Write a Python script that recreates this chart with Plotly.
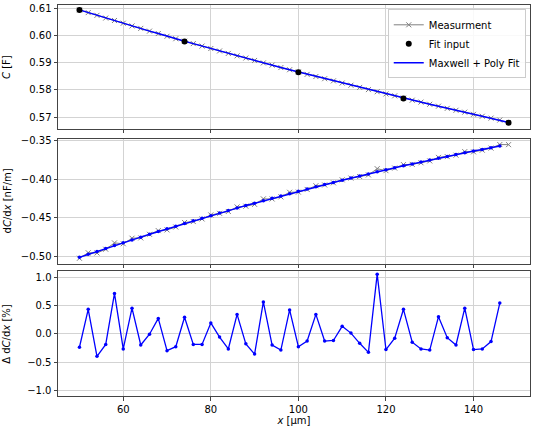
import plotly.graph_objects as go

# positions along x [um]
x_pos = [50, 52, 54, 56, 58, 60, 62, 64, 66, 68, 70, 72, 74, 76, 78, 80, 82, 84,
         86, 88, 90, 92, 94, 96, 98, 100, 102, 104, 106, 108, 110, 112, 114, 116,
         118, 120, 122, 124, 126, 128, 130, 132, 134, 136, 138, 140, 142, 144,
         146, 148]

# capacitance C [F]
c_meas = [0.6094, 0.6084, 0.6074, 0.6064, 0.6055, 0.6045, 0.6035, 0.6026,
          0.6016, 0.6007, 0.5997, 0.5988, 0.5979, 0.5970, 0.5961, 0.5952,
          0.5943, 0.5934, 0.5925, 0.5917, 0.5908, 0.5899, 0.5891, 0.5882,
          0.5874, 0.5866, 0.5857, 0.5849, 0.5841, 0.5833, 0.5825, 0.5817,
          0.5809, 0.5801, 0.5793, 0.5785, 0.5778, 0.5770, 0.5762, 0.5755,
          0.5747, 0.5740, 0.5732, 0.5725, 0.5718, 0.5710, 0.5703, 0.5696,
          0.5689, 0.5680]
c_fit = c_meas

fit_in_x = [50, 74, 100, 124, 148]
fit_in_c = [0.6094, 0.5978, 0.5865, 0.5768, 0.5679]

# dC/dx [nF/m]
dcdx_meas = [-0.5029, -0.4957, -0.4960, -0.4911, -0.4829, -0.4840, -0.4768,
             -0.4764, -0.4717, -0.4669, -0.4660, -0.4622, -0.4563, -0.4551,
             -0.4517, -0.4465, -0.4444, -0.4420, -0.4361, -0.4351, -0.4327,
             -0.4256, -0.4257, -0.4230, -0.4170, -0.4168, -0.4133, -0.4085,
             -0.4075, -0.4047, -0.4008, -0.3985, -0.3965, -0.3944, -0.3863,
             -0.3889, -0.3855, -0.3810, -0.3807, -0.3786, -0.3762, -0.3716,
             -0.3706, -0.3687, -0.3641, -0.3644, -0.3622, -0.3595, -0.3549,
             -0.3550]

x_fit = x_pos[:-1]
dcdx_fit = [-0.5017, -0.4978, -0.4940, -0.4902, -0.4864, -0.4827, -0.4790,
            -0.4754, -0.4717, -0.4682, -0.4646, -0.4611, -0.4576, -0.4542,
            -0.4508, -0.4474, -0.4441, -0.4408, -0.4376, -0.4343, -0.4312,
            -0.4280, -0.4249, -0.4218, -0.4188, -0.4158, -0.4128, -0.4099,
            -0.4070, -0.4042, -0.4013, -0.3985, -0.3958, -0.3931, -0.3904,
            -0.3878, -0.3852, -0.3826, -0.3801, -0.3776, -0.3751, -0.3727,
            -0.3703, -0.3680, -0.3657, -0.3634, -0.3612, -0.3590, -0.3568]

# relative deviation [%]
delta_pct = [-0.24, 0.43, -0.40, -0.19, 0.71, -0.27, 0.45, -0.20, -0.01, 0.27,
             -0.30, -0.23, 0.29, -0.19, -0.19, 0.19, -0.06, -0.27, 0.34, -0.18,
             -0.36, 0.56, -0.20, -0.29, 0.42, -0.23, -0.13, 0.34, -0.13, -0.12,
             0.13, 0.01, -0.17, -0.33, 1.05, -0.28, -0.08, 0.43, -0.15, -0.27,
             -0.29, 0.30, -0.07, -0.20, 0.45, -0.28, -0.27, -0.14, 0.54]

FONT = "DejaVu Sans"
FS = 10
GRAY = "#808080"
BLUE = "#0000ff"

fig = go.Figure()

meas_style = dict(mode="lines+markers", line=dict(color=GRAY, width=1),
                  marker=dict(symbol="x-thin", size=5,
                              line=dict(color=GRAY, width=1)))

# top panel
fig.add_trace(go.Scatter(x=x_pos, y=c_meas, name="Measurment", legendrank=1,
                         xaxis="x", yaxis="y", **meas_style))
fig.add_trace(go.Scatter(x=x_pos, y=c_fit, name="Maxwell + Poly Fit",
                         legendrank=3,
                         mode="lines", line=dict(color=BLUE, width=1.5),
                         xaxis="x", yaxis="y"))
fig.add_trace(go.Scatter(x=fit_in_x, y=fit_in_c, name="Fit input",
                         legendrank=2,
                         mode="markers", marker=dict(color="black", size=6),
                         xaxis="x", yaxis="y"))

# middle panel
fig.add_trace(go.Scatter(x=x_pos, y=dcdx_meas, showlegend=False,
                         xaxis="x2", yaxis="y2", **meas_style))
fig.add_trace(go.Scatter(x=x_fit, y=dcdx_fit, showlegend=False,
                         mode="lines+markers", line=dict(color=BLUE, width=1.5),
                         marker=dict(color=BLUE, size=3.5),
                         xaxis="x2", yaxis="y2"))

# bottom panel
fig.add_trace(go.Scatter(x=x_fit, y=delta_pct, showlegend=False,
                         mode="lines+markers", line=dict(color=BLUE, width=1.3),
                         marker=dict(color=BLUE, size=3.5),
                         xaxis="x3", yaxis="y3"))

axis_common = dict(showline=True, mirror=True, linecolor="#444", linewidth=1,
                   showgrid=True, gridcolor="#d3d3d3", gridwidth=1,
                   zeroline=False, ticks="outside", ticklen=3.5,
                   tickcolor="#444", tickfont=dict(family=FONT, size=FS,
                                                   color="black"))

xr = [45.1, 152.9]
fig.update_layout(
    width=533, height=426,
    margin=dict(l=58, r=2, t=3, b=30),
    paper_bgcolor="white", plot_bgcolor="white",
    font=dict(family=FONT, size=FS, color="black"),
    xaxis=dict(domain=[0, 1], anchor="y", range=xr, dtick=20,
               showticklabels=False, **axis_common),
    xaxis2=dict(domain=[0, 1], anchor="y2", range=xr, dtick=20,
                showticklabels=False, **axis_common),
    xaxis3=dict(domain=[0, 1], anchor="y3", range=xr, dtick=20,
                title=dict(text="<i>x</i> [μm]", standoff=2,
                           font=dict(family=FONT, size=FS)),
                **axis_common),
    yaxis=dict(domain=[0.6835, 1.0], anchor="x", range=[0.5657, 0.6112],
               dtick=0.01, tickformat=".2f", **axis_common),
    yaxis2=dict(domain=[0.3377, 0.658], anchor="x2", range=[-0.5103, -0.3473],
                dtick=0.05, tickformat=".2f", **axis_common),
    yaxis3=dict(domain=[0, 0.3188], anchor="x3", range=[-1.1, 1.1],
                dtick=0.5, tickformat=".1f", **axis_common),
    legend=dict(x=0.991, y=0.989, xanchor="right", yanchor="top",
                bgcolor="rgba(255,255,255,0.85)", bordercolor="#cccccc",
                borderwidth=1, font=dict(family=FONT, size=FS),
                itemwidth=30, tracegroupgap=0),
    showlegend=True,
)

# aligned y labels as in the reference
ylabels = [("<i>C</i> [F]", (0.6835 + 1.0) / 2),
           ("d<i>C</i>/d<i>x</i> [nF/m]", (0.3377 + 0.658) / 2),
           ("Δ d<i>C</i>/d<i>x</i> [%]", 0.3188 / 2)]
for txt, yc in ylabels:
    fig.add_annotation(text=txt, xref="paper", yref="paper",
                       x=(7 - 58) / 473, y=yc, xanchor="center",
                       yanchor="middle", textangle=-90, showarrow=False,
                       font=dict(family=FONT, size=FS))

fig.write_html("out.html", config={"displayModeBar": False},
               post_script="document.body.style.margin='0';")
